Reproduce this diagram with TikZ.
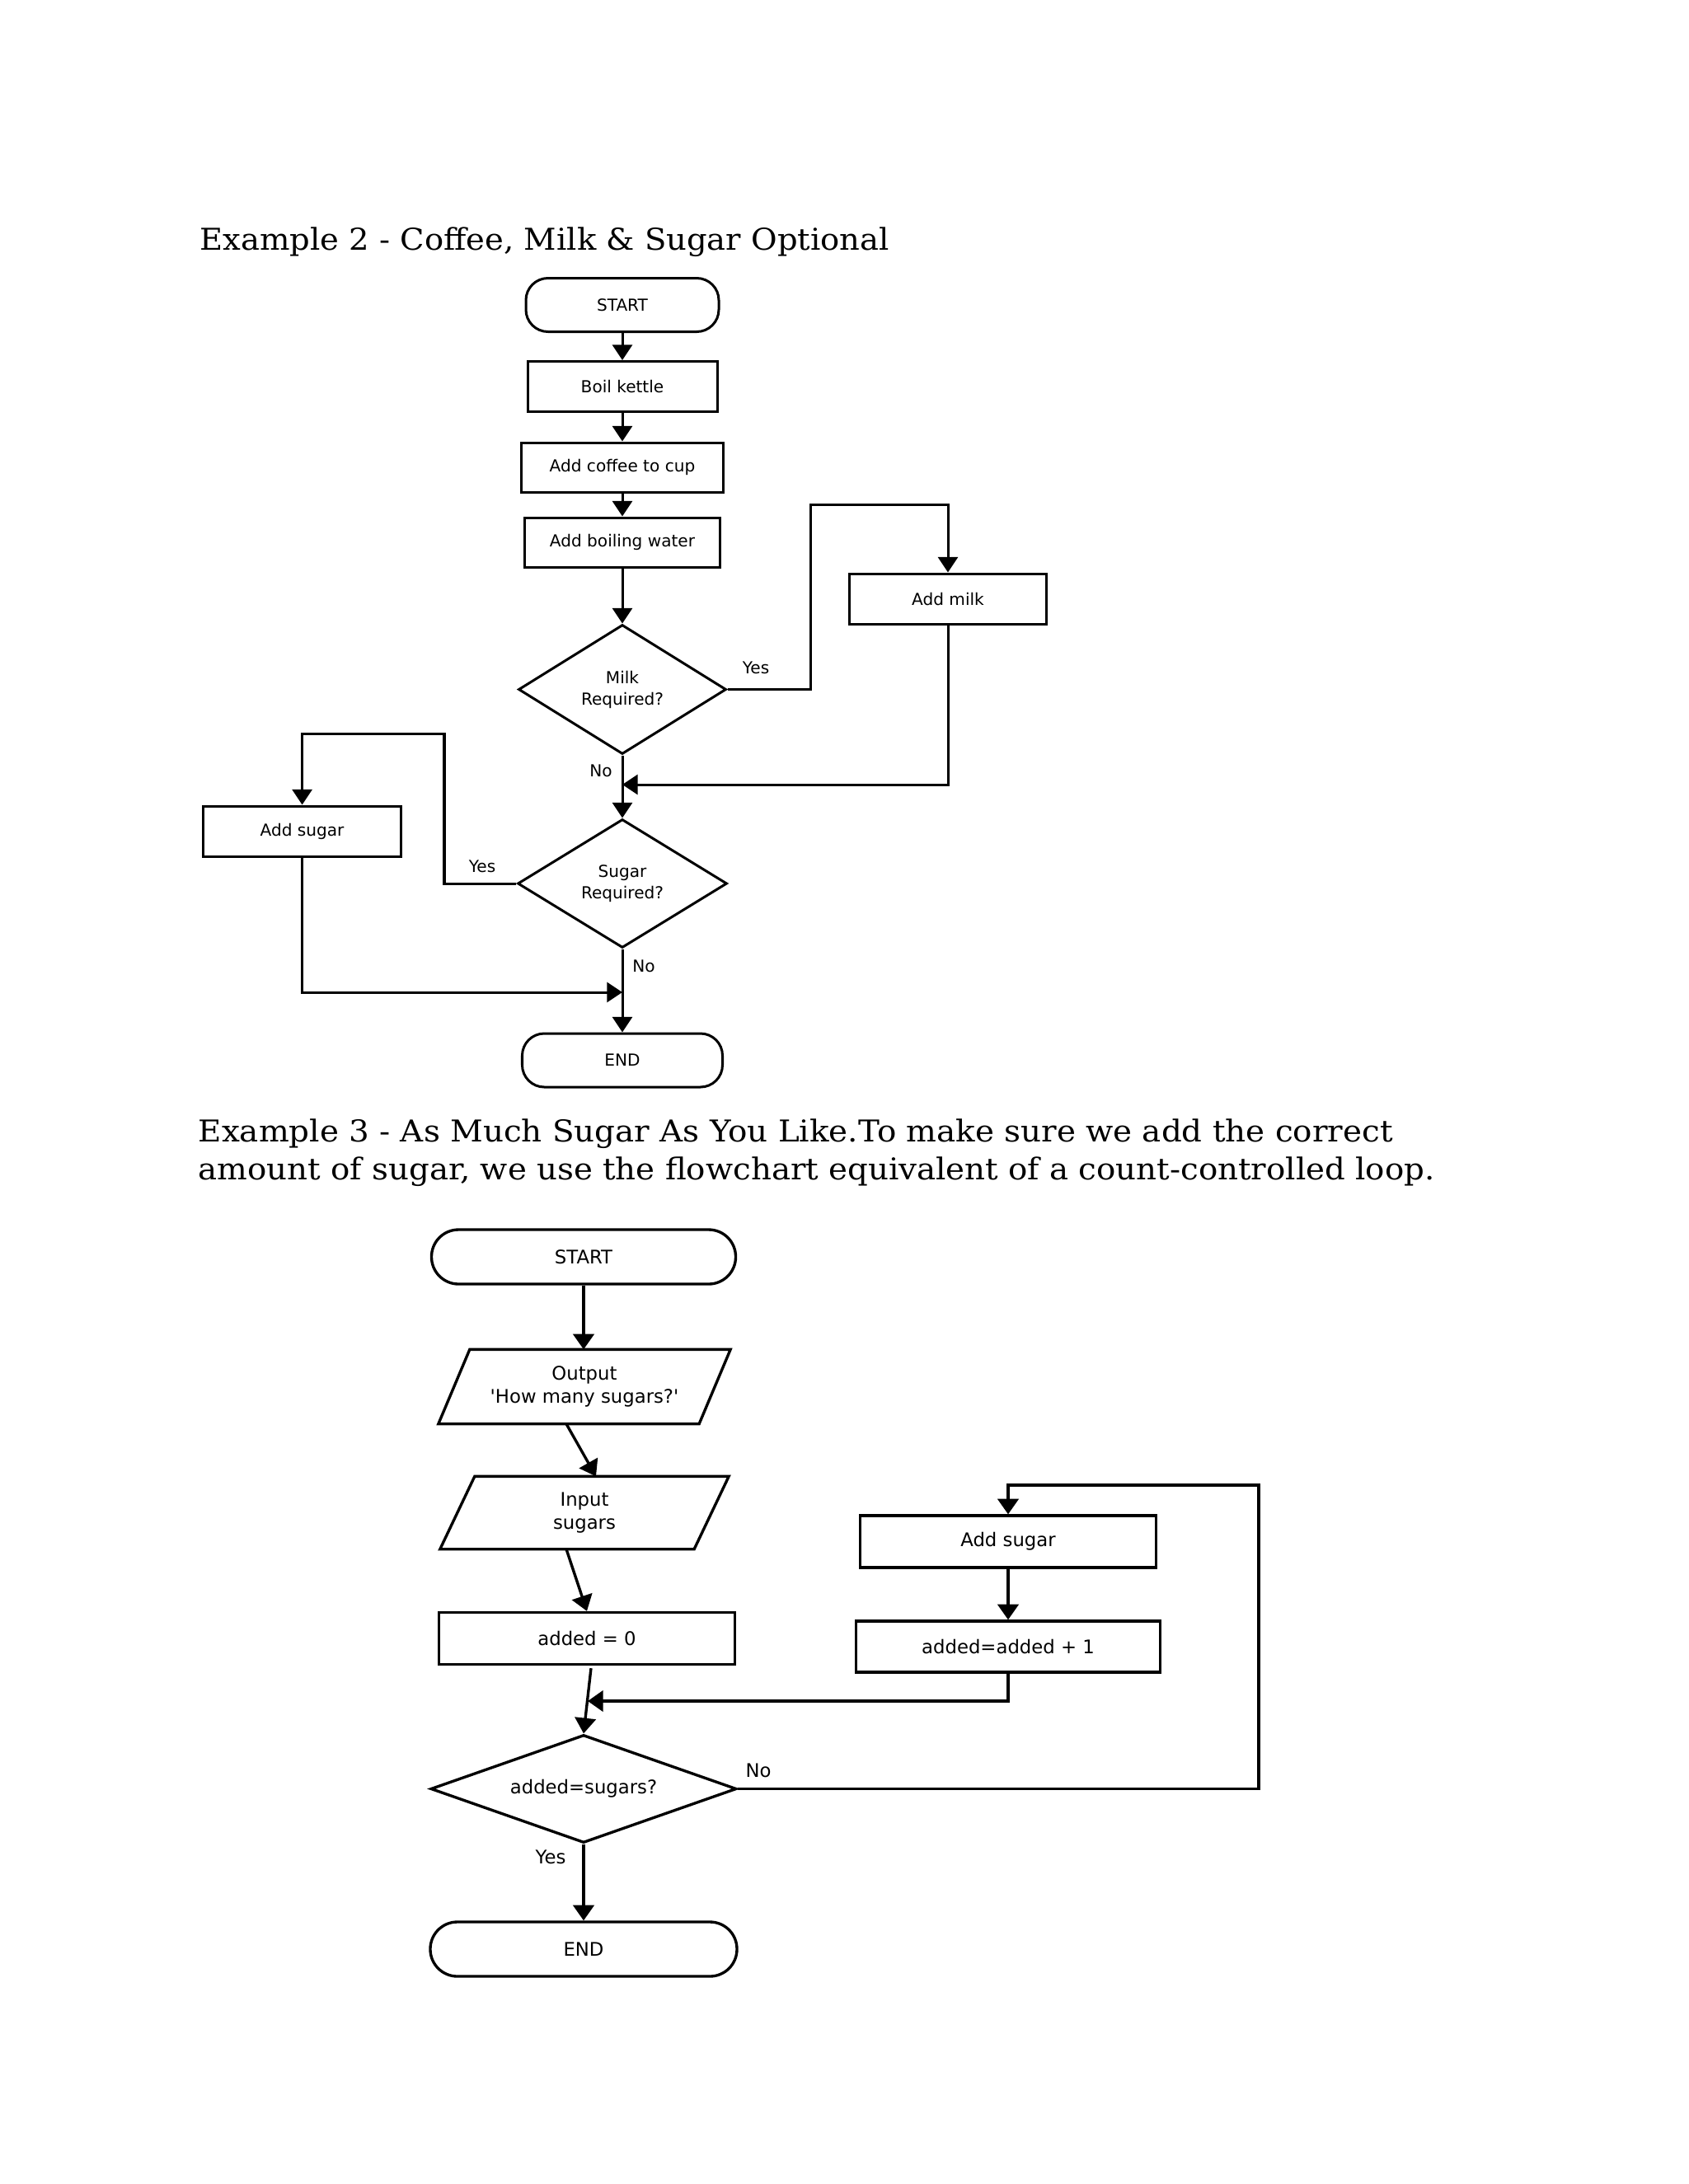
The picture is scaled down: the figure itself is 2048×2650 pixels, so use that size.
\documentclass[tikz,border=0pt]{standalone}
\usepackage{fontspec}
\usepackage{graphicx}
\newfontfamily\flowfont{DejaVu Sans}
\newfontfamily\headfont{DejaVu Serif}
\usetikzlibrary{arrows.meta,shapes.geometric,calc}
\newcommand\PX{0.29887pt}
\begin{document}
\begin{tikzpicture}[x=0.29887pt,y=-0.29887pt,
  ln/.style={line width=0.9pt},
  arr/.style={line width=0.9pt,-{Triangle[width=7.2pt,length=5.6pt]}},
  arrb/.style={line width=1pt,-{Triangle[width=7.6pt,length=5.6pt]}},
  fa/.style={font=\flowfont\fontsize{6}{7.8}\selectfont},
  fb/.style={font=\flowfont\fontsize{6.8}{8.4}\selectfont},
  head/.style={anchor=base west,inner sep=0pt,font=\headfont\fontsize{10.9}{13}\selectfont},
  proca/.style={draw,line width=0.9pt,rectangle,inner sep=0pt,align=center,fa},
  procb/.style={draw,line width=1pt,rectangle,inner sep=0pt,align=center,fb},
  terma/.style={draw,line width=0.9pt,rectangle,rounded corners=8pt,inner sep=0pt,fa},
  termb/.style={draw,line width=1pt,rectangle,rounded corners=9.8pt,inner sep=0pt,fb},
  deca/.style={draw,line width=0.9pt,diamond,aspect=1.6,inner sep=0pt,align=center,fa},
  decb/.style={draw,line width=1pt,diamond,aspect=2.8,inner sep=0pt,align=center,fb},
  paratext/.style={rectangle,inner sep=0pt,align=center,fb},
  paraline/.style={draw,line width=1pt},
  laba/.style={inner sep=0pt,fa},
  labb/.style={inner sep=0pt,fb}
]
\path[fill=white] (0,0) rectangle (2048,2650);
\useasboundingbox (0,0) rectangle (2048,2650);

% ---------------- Example 2 ----------------
\node[head] (t2) at (242,303) {\resizebox{249.9pt}{\height}{Example 2 - Coffee, Milk \& Sugar Optional}};

\node[terma,minimum width=234*\PX,minimum height=65*\PX] (s2) at (755,370) {START};
\node[proca,minimum width=230*\PX,minimum height=61*\PX] (boil) at (755,469) {Boil kettle};
\node[proca,minimum width=245*\PX,minimum height=60*\PX] (coffee) at (755,567) {Add coffee to cup};
\node[proca,minimum width=237*\PX,minimum height=60*\PX] (water) at (755,658) {Add boiling water};
\node[deca,minimum width=252*\PX,minimum height=157*\PX] (milkq) at (755,836.5) {Milk\\Required?};
\node[proca,minimum width=239*\PX,minimum height=61*\PX] (milk) at (1150,726.5) {Add milk};
\node[deca,minimum width=254*\PX,minimum height=156*\PX] (sugarq) at (755,1072) {Sugar\\Required?};
\node[proca,minimum width=240*\PX,minimum height=61*\PX] (sugar2) at (366.6,1008.5) {Add sugar};
\node[terma,minimum width=243*\PX,minimum height=65*\PX] (end2) at (755,1286.5) {END};

\coordinate (c2) at (983,612);
\coordinate (j2) at (755,952);
\coordinate (c3) at (539,890);
\coordinate (j4) at (755,1204);

\draw[arr] (s2) -- (boil);
\draw[arr] (boil) -- (coffee);
\draw[arr] (coffee) -- (water);
\draw[arr] (water) -- (milkq);
\draw[arr] (milkq.east) -| (c2) -| (milk.north);
\draw[arr] (milk.south) |- (j2);
\draw[arr] (milkq) -- (sugarq);
\draw[arr] (sugarq.west) -| (c3) -| (sugar2.north);
\draw[arr] (sugar2.south) |- (j4);
\draw[arr] (sugarq) -- (end2);

\node[laba] (y1) at (917,810) {Yes};
\node[laba] (n1) at (729,935) {No};
\node[laba] (y2) at (585,1051) {Yes};
\node[laba] (n2) at (781,1172) {No};

% ---------------- Example 3 ----------------
\node[head] (t3a) at (240,1385) {\resizebox{433.1pt}{\height}{Example 3 - As Much Sugar As You Like.To make sure we add the correct}};
\node[head] (t3b) at (240,1431) {\resizebox{448.3pt}{\height}{amount of sugar, we use the flowchart equivalent of a count-controlled loop.}};

\node[termb,minimum width=369*\PX,minimum height=66*\PX] (s3) at (708,1525) {START};
% parallelograms: text nodes sized to the mean width, outlines drawn from their corners
\node[paratext,minimum width=315*\PX,minimum height=89*\PX] (out) at (709,1682.5) {Output\\'How many sugars?'};
\path[paraline] ($(out.north west)+(19,0)$) -- ($(out.north east)+(19,0)$)
   -- ($(out.south east)+(-19,0)$) -- ($(out.south west)+(-19,0)$) -- cycle;
\node[paratext,minimum width=307*\PX,minimum height=87*\PX] (in) at (709,1835.5) {Input\\sugars};
\path[paraline] ($(in.north west)+(21,0)$) -- ($(in.north east)+(21,0)$)
   -- ($(in.south east)+(-21,0)$) -- ($(in.south west)+(-21,0)$) -- cycle;
\node[procb,minimum width=359*\PX,minimum height=63*\PX] (a0) at (712,1988) {added = 0};
\node[decb,minimum width=371*\PX,minimum height=131*\PX] (dq) at (708,2170.5) {added=sugars?};
\node[termb,minimum width=372*\PX,minimum height=66*\PX] (end3) at (708,2365) {END};
\node[procb,minimum width=359*\PX,minimum height=63*\PX] (as3) at (1223,1870.5) {Add sugar};
\node[procb,minimum width=369*\PX,minimum height=62*\PX] (inc) at (1223,1998) {added=added + 1};

\coordinate (j3) at (713,2064);
\coordinate (c4) at (1527,1802);

\draw[arrb] (s3) -- (s3.south |- out.north);
\draw[arrb] ($(out.south)+(-22,0)$) -- ($(in.north)+(14,0)$);
\draw[arrb] ($(in.south)+(-22,0)$) -- (a0.north);
\draw[arrb] ($(a0.south)+(5,3)$) -- (dq.north);
\draw[arrb] (inc.south) |- (j3);
\draw[arrb] (dq.east) -| (c4) -| (as3.north);
\draw[arrb] (as3) -- (inc);
\draw[arrb] (dq) -- (end3);

\node[labb] (n3) at (920,2148) {No};
\node[labb] (y3) at (668,2253) {Yes};
\end{tikzpicture}
\end{document}
